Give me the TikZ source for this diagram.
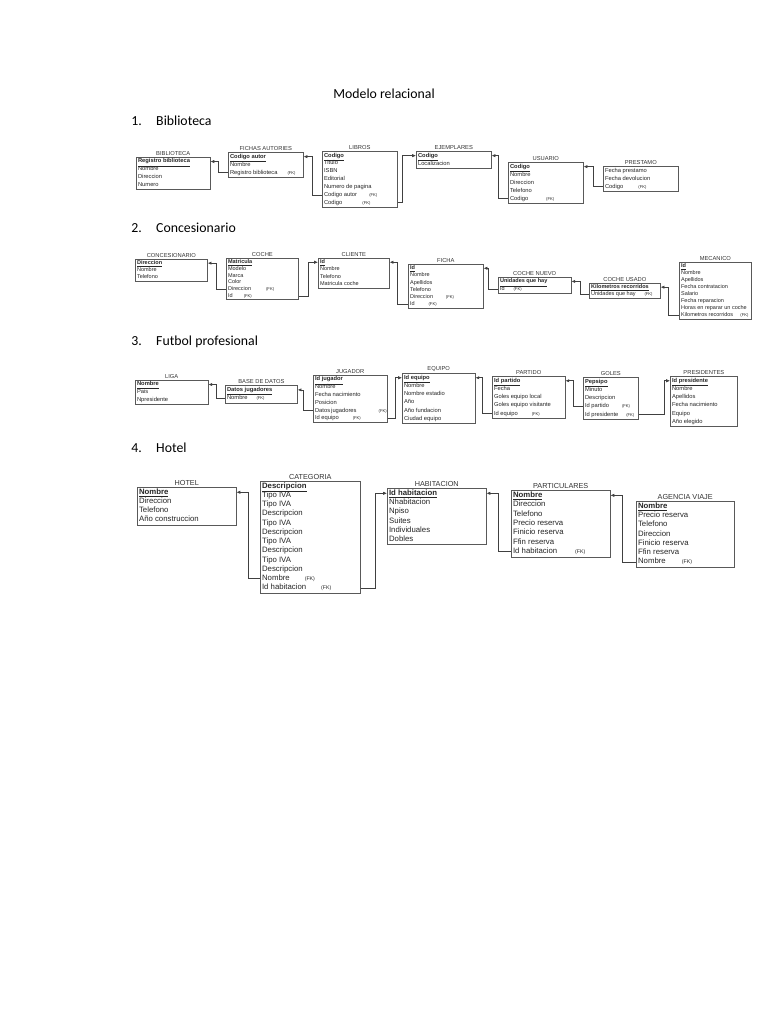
\documentclass[tikz,border=0pt]{standalone}
\usepackage{fontspec}
\setmainfont{Carlito}
\newfontfamily\tblfont{Liberation Sans}
\usetikzlibrary{matrix,arrows.meta,shadows}

\newcommand{\pkey}[1]{\textbf{\underline{#1}}}
\newcommand{\fksize}{\fontsize{3.3}{4}\selectfont}
\newcommand{\fkey}[1][3.5mm]{\hspace{#1}{\fksize(FK)}}

\begin{document}
\begin{tikzpicture}[x=0.28mm, y=-0.28mm,
tbl/.style 2 args={matrix of nodes, draw=black!65, line width=0.45pt, fill=white,
  drop shadow={shadow xshift=0.5pt, shadow yshift=-0.5pt, opacity=0.5},
  inner xsep=0.5mm, inner ysep=0.3pt, row sep=0pt, matrix anchor=north west,
  nodes={minimum height=#2, inner sep=0pt, text height=3.4pt, text depth=1.1pt, text=black!85,
    execute at begin node={\hbox to #1\bgroup}, execute at end node={\hfil\egroup},
    font=\tblfont\fontsize{4.6}{5.5}\selectfont}},
small/.style={nodes={font=\tblfont\fontsize{4.4}{5.3}\selectfont}},
big/.style={nodes={text height=4.6pt, text depth=1.5pt,
    font=\tblfont\fontsize{6.2}{7.4}\selectfont\def\fksize{\fontsize{4.2}{5}\selectfont}}},
ttl/.style={anchor=south, inner sep=0.6pt, text=black!80, font=\tblfont\fontsize{4.6}{5}\selectfont},
bigttl/.style={ttl, font=\tblfont\fontsize{5.8}{6.5}\selectfont},
head/.style={anchor=west, inner sep=0pt, font=\fontsize{11}{13}\selectfont},
link/.style={<-, >={Latex[length=3pt,width=2.6pt]}, draw=black!75, line width=0.5pt}]

\useasboundingbox (0,0) rectangle (768,1024);

\node[font=\fontsize{11}{13}\selectfont] (title) at (384,94) {Modelo relacional};

% 1. Biblioteca
\node[head] (h1) at (131,121) {\makebox[7mm][l]{1.}Biblioteca};

\matrix[tbl={19.7mm}{2.17mm}] (bib) at (136,157) {
\pkey{Registro biblioteca} \\
Nombre \\
Direccion \\
Numero \\};
\node[ttl] (bib-t) at (bib.north) {BIBLIOTECA};

\matrix[tbl={20mm}{2.24mm}] (fich) at (228,152) {
\pkey{Codigo autor} \\
Nombre \\
Registro biblioteca\fkey[2.8mm] \\};
\node[ttl] (fich-t) at (fich.north) {FICHAS AUTORIES};

\matrix[tbl={20mm}{2.2mm}] (libros) at (322,151) {
\pkey{Codigo} \\
Titulo \\
ISBN \\
Editorial \\
Numero de pagina \\
Codigo autor\fkey[3.4mm] \\
Codigo\fkey[5.6mm] \\};
\node[ttl] (libros-t) at (libros.north) {LIBROS};

\matrix[tbl={20mm}{2.24mm}] (ejem) at (416,151) {
\pkey{Codigo} \\
Localizacion \\};
\node[ttl] (ejem-t) at (ejem.north) {EJEMPLARES};

\matrix[tbl={20mm}{2.24mm}] (usuario) at (508,162) {
\pkey{Codigo} \\
Nombre \\
Direccion \\
Telefono \\
Codigo\fkey[5mm] \\};
\node[ttl] (usuario-t) at (usuario.north) {USUARIO};

\matrix[tbl={20mm}{2.24mm}] (prestamo) at (603,166) {
Fecha prestamo \\
Fecha devolucion \\
Codigo\fkey[4.2mm] \\};
\node[ttl] (prestamo-t) at (prestamo.north) {PRESTAMO};

\draw[link] (bib-1-1 -| bib.east) -- ++(8,0) |- (fich-3-1 -| fich.west);
\draw[link] (fich-1-1 -| fich.east) -- ++(9,0) |- (libros-6-1 -| libros.west);
\draw[link] (ejem-1-1 -| ejem.west) -- ++(-14,0) |- (libros-7-1 -| libros.east);
\draw[link] (ejem-1-1 -| ejem.east) -- ++(7,0) |- (usuario-5-1 -| usuario.west);
\draw[link] (usuario-1-1 -| usuario.east) -- ++(10,0) |- (prestamo-3-1 -| prestamo.west);

% 2. Concesionario
\node[head] (h2) at (131,228) {\makebox[7mm][l]{2.}Concesionario};

\matrix[tbl={19.2mm}{1.96mm}, small] (conc) at (135,259) {
\pkey{Direccion} \\
Nombre \\
Telefono \\};
\node[ttl] (conc-t) at (conc.north) {CONCESIONARIO};

\matrix[tbl={19.2mm}{1.9mm}, small] (coche) at (226,258) {
\pkey{Matricula} \\
Modelo \\
Marca \\
Color \\
Direccion\fkey[4.2mm] \\
Id\fkey[3.1mm] \\};
\node[ttl] (coche-t) at (coche.north) {COCHE};

\matrix[tbl={18.9mm}{2.02mm}, small] (cliente) at (318,258) {
\pkey{Id} \\
Nombre \\
Telefono \\
Matricula coche \\};
\node[ttl] (cliente-t) at (cliente.north) {CLIENTE};

\matrix[tbl={20mm}{2.02mm}, small] (ficha) at (408,264) {
\pkey{Id} \\
Nombre \\
Apellidos \\
Telefono \\
Direccion\fkey[3.6mm] \\
Id\fkey[3.9mm] \\};
\node[ttl] (ficha-t) at (ficha.north) {FICHA};

\matrix[tbl={19.4mm}{2.1mm}, small] (nuevo) at (498,277) {
\pkey{Unidades que hay} \\
Id\fkey[2.5mm] \\};
\node[ttl] (nuevo-t) at (nuevo.north) {COCHE NUEVO};

\matrix[tbl={18.9mm}{1.96mm}, small] (usado) at (589,283) {
\pkey{Kilometros recorridos} \\
Unidades que hay\fkey[2.5mm] \\};
\node[ttl] (usado-t) at (usado.north) {COCHE USADO};

\matrix[tbl={19.2mm}{1.96mm}, small] (mecanico) at (679,262) {
\pkey{Id} \\
Nombre \\
Apellidos \\
Fecha contratacion \\
Salario \\
Fecha reparacion \\
Horas en reparar un coche \\
Kilometros recorridos\fkey[2mm] \\};
\node[ttl] (mecanico-t) at (mecanico.north) {MECANICO};

\draw[link] (conc-1-1 -| conc.east) -- ++(9,0) |- (coche-5-1 -| coche.west);
\draw[link] (cliente-1-1 -| cliente.west) -- ++(-10,0) |- (coche-6-1 -| coche.east);
\draw[link] (cliente-1-1 -| cliente.east) -- ++(8,0) |- (ficha-6-1 -| ficha.west);
\draw[link] (ficha-1-1 -| ficha.east) -- ++(5,0) |- (nuevo-2-1 -| nuevo.west);
\draw[link] (nuevo-1-1 -| nuevo.east) -- ++(9,0) |- (usado-2-1 -| usado.west);
\draw[link] (usado-1-1 -| usado.east) -- ++(8,0) |- (mecanico-8-1 -| mecanico.west);

% 3. Futbol profesional
\node[head] (h3) at (131,342) {\makebox[7mm][l]{3.}Futbol profesional};

\matrix[tbl={19.4mm}{2.16mm}] (liga) at (135,380) {
\pkey{Nombre} \\
Pais \\
Npresidente \\};
\node[ttl] (liga-t) at (liga.north) {LIGA};

\matrix[tbl={19.2mm}{2.38mm}] (base) at (225,385) {
\pkey{Datos jugadores} \\
Nombre\fkey[2.5mm] \\};
\node[ttl] (base-t) at (base.north) {BASE DE DATOS};

\matrix[tbl={19.7mm}{2.18mm}] (jugador) at (313,375) {
\pkey{Id jugador} \\
Nombre \\
Fecha nacimiento \\
Posicion \\
Datos jugadores\fkey[6.2mm] \\
Id equipo\fkey[3.9mm] \\};
\node[ttl] (jugador-t) at (jugador.north) {JUGADOR};

\matrix[tbl={19.4mm}{2.3mm}] (equipo) at (402,373) {
\pkey{Id equipo} \\
Nombre \\
Nombre estadio \\
Año \\
Año fundacion \\
Ciudad equipo \\};
\node[ttl] (equipo-t) at (equipo.north) {EQUIPO};

\matrix[tbl={19.4mm}{2.3mm}] (partido) at (492,376) {
\pkey{Id partido} \\
Fecha \\
Goles equipo local \\
Goles equipo visitante \\
Id equipo\fkey[3.9mm] \\};
\node[ttl] (partido-t) at (partido.north) {PARTIDO};

\matrix[tbl={14.4mm}{2.3mm}] (goles) at (583,377) {
\pkey{Pepsipo} \\
Minuto \\
Descripcion \\
Id partido\fkey[3.6mm] \\
Id presidente\fkey[2.2mm] \\};
\node[ttl] (goles-t) at (goles.north) {GOLES};

\matrix[tbl={17.8mm}{2.3mm}] (presid) at (670,376) {
\pkey{Id presidente} \\
Nombre \\
Apellidos \\
Fecha nacimiento \\
Equipo \\
Año elegido \\};
\node[ttl] (presid-t) at (presid.north) {PRESIDENTES};

\draw[link] (liga-1-1 -| liga.east) -- ++(8,0) |- (base-2-1 -| base.west);
\draw[link] (base-1-1 -| base.east) -- ++(6,0) |- (jugador-5-1 -| jugador.west);
\draw[link] (equipo-1-1 -| equipo.west) -- ++(-7,0) |- (jugador-6-1 -| jugador.east);
\draw[link] (equipo-1-1 -| equipo.east) -- ++(7,0) |- (partido-5-1 -| partido.west);
\draw[link] (partido-1-1 -| partido.east) -- ++(8,0) |- (goles-4-1 -| goles.west);
\draw[link] (presid-1-1 -| presid.west) -- ++(-6,0) |- (goles-5-1 -| goles.east);

% 4. Hotel
\node[head] (h4) at (131,448) {\makebox[7mm][l]{4.}Hotel};

\matrix[tbl={26.7mm}{2.58mm}, big] (hotel) at (137,487) {
\pkey{Nombre} \\
Direccion \\
Telefono \\
Año construccion \\};
\node[bigttl] (hotel-t) at (hotel.north) {HOTEL};

\matrix[tbl={27mm}{2.59mm}, big] (categ) at (260,481) {
\pkey{Descripcion} \\
Tipo IVA \\
Tipo IVA \\
Descripcion \\
Tipo IVA \\
Descripcion \\
Tipo IVA \\
Descripcion \\
Tipo IVA \\
Descripcion \\
Nombre\fkey[4.2mm] \\
Id habitacion\fkey[4.2mm] \\};
\node[bigttl] (categ-t) at (categ.north) {CATEGORIA};

\matrix[tbl={26.7mm}{2.6mm}, big] (habit) at (387,488) {
\pkey{Id habitacion} \\
Nhabitacion \\
Npiso \\
Suites \\
Individuales \\
Dobles \\};
\node[bigttl] (habit-t) at (habit.north) {HABITACION};

\matrix[tbl={26.7mm}{2.63mm}, big] (partic) at (511,490) {
\pkey{Nombre} \\
Direccion \\
Telefono \\
Precio reserva \\
Finicio reserva \\
Ffin reserva \\
Id habitacion\fkey[5mm] \\};
\node[bigttl] (partic-t) at (partic.north) {PARTICULARES};

\matrix[tbl={26.4mm}{2.6mm}, big] (agencia) at (636,501) {
\pkey{Nombre} \\
Precio reserva \\
Telefono \\
Direccion \\
Finicio reserva \\
Ffin reserva \\
Nombre\fkey[4.5mm] \\};
\node[bigttl] (agencia-t) at (agencia.north) {AGENCIA VIAJE};

\draw[link] (hotel-1-1 -| hotel.east) -- ++(12,0) |- (categ-11-1 -| categ.west);
\draw[link] (habit-1-1 -| habit.west) -- ++(-12,0) |- (categ-12-1 -| categ.east);
\draw[link] (habit-1-1 -| habit.east) -- ++(12,0) |- (partic-7-1 -| partic.west);
\draw[link] (partic-1-1 -| partic.east) -- ++(12,0) |- (agencia-7-1 -| agencia.west);
\end{tikzpicture}
\end{document}
